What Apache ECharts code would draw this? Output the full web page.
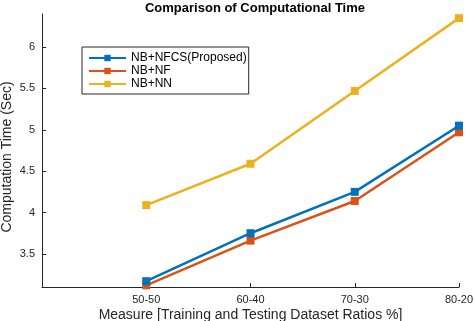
<!DOCTYPE html>
<html>
<head>
<meta charset="utf-8">
<script src="https://cdn.jsdelivr.net/npm/echarts@6/dist/echarts.min.js"></script>
<style>
  html, body { margin: 0; padding: 0; background: #fff; }
  #chart { width: 474px; height: 321px; }
</style>
</head>
<body>
<div id="chart"></div>
<script>
// Train/test split ratios and measured computation times (seconds)
const ratios = ['50-50', '60-40', '70-30', '80-20'];
const nbNfcs = [3.17, 3.75, 4.25, 5.05];
const nbNf   = [3.12, 3.66, 4.14, 4.97];
const nbNn   = [4.09, 4.59, 5.47, 6.35];
const yTicks = [3.5, 4, 4.5, 5, 5.5, 6];

const seriesNames  = ['NB+NFCS(Proposed)', 'NB+NF', 'NB+NN'];
const seriesValues = [nbNfcs, nbNf, nbNn];
const seriesColors = ['#0072BD', '#D95319', '#EDB120'];

const axisColor = '#262626';
const font = 'Liberation Sans, Arial, sans-serif';

const chart = echarts.init(document.getElementById('chart'), null, { renderer: 'canvas' });

chart.setOption({
  animation: false,
  backgroundColor: '#fff',
  title: {
    text: 'Comparison of Computational Time',
    left: 250, textAlign: 'center', top: -3,
    textStyle: { fontFamily: font, fontSize: 13, fontWeight: 'bold', color: '#000' }
  },
  legend: {
    orient: 'vertical',
    left: 82, top: 47,
    padding: [5, 2, 4, 6],
    itemGap: 1,
    itemWidth: 37, itemHeight: 8,
    borderColor: axisColor, borderWidth: 1,
    backgroundColor: '#fff',
    textStyle: { fontFamily: font, fontSize: 12, color: '#000' },
    data: seriesNames
  },
  grid: { left: 42, right: 15, top: 14, bottom: 34, outerBoundsMode: 'none', containLabel: false },
  xAxis: {
    type: 'value', min: 0, max: 4,
    name: 'Measure [Training and Testing Dataset Ratios %]',
    nameLocation: 'middle', nameGap: 21, nameMoveOverlap: false,
    nameTextStyle: { fontFamily: font, fontSize: 14, color: axisColor },
    axisLine: { lineStyle: { color: axisColor, width: 1 } },
    axisTick: { inside: true, length: 4, lineStyle: { color: axisColor }, customValues: [1, 2, 3, 4] },
    axisLabel: {
      customValues: [1, 2, 3, 4],
      margin: 7,
      fontFamily: font, fontSize: 11, color: axisColor,
      formatter: v => ratios[v - 1] || ''
    },
    splitLine: { show: false }
  },
  yAxis: {
    type: 'value', min: 3.1, max: 6.4,
    name: 'Computation Time (Sec)',
    nameLocation: 'middle', nameGap: 28, nameRotate: 90, nameMoveOverlap: false,
    nameTextStyle: { fontFamily: font, fontSize: 14, color: axisColor, padding: [0, 0, 0, -13] },
    axisLine: { show: true, lineStyle: { color: axisColor, width: 1 } },
    axisTick: { show: true, inside: true, length: 4, lineStyle: { color: axisColor }, customValues: yTicks },
    axisLabel: { customValues: yTicks, margin: 7, fontFamily: font, fontSize: 11, color: axisColor },
    splitLine: { show: false }
  },
  series: seriesNames.map((name, i) => ({
    name,
    type: 'line',
    data: seriesValues[i].map((v, k) => [k + 1, v]),
    color: seriesColors[i],
    lineStyle: { width: 2.5, color: seriesColors[i] },
    symbol: 'rect', symbolSize: 8,
    itemStyle: { color: seriesColors[i] },
    z: 3 - i
  }))
});
</script>
</body>
</html>
